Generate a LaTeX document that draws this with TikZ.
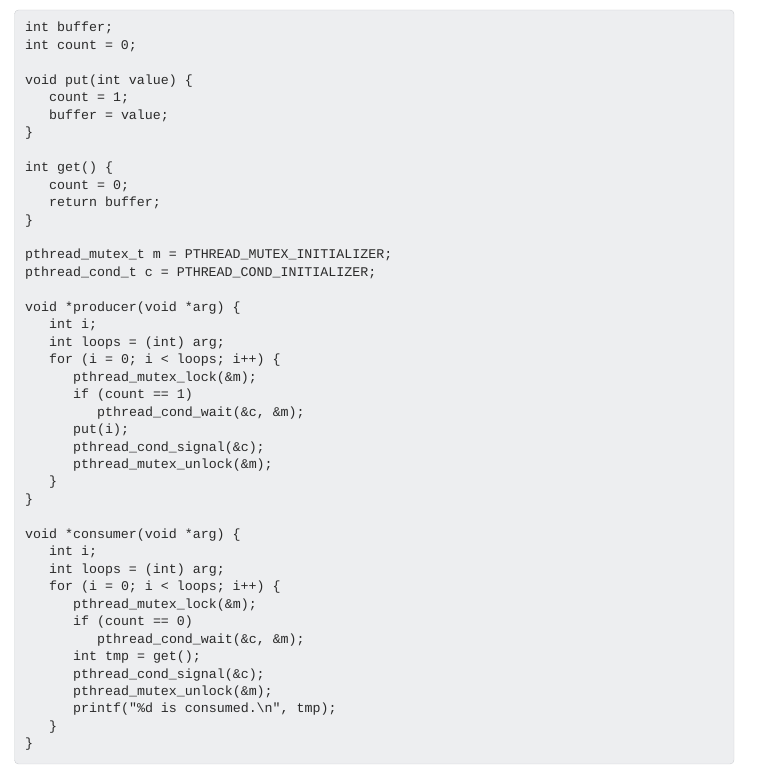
\documentclass[tikz,border=0pt]{standalone}
\usepackage{fontspec}
\setmonofont{Liberation Mono}
\definecolor{bg}{HTML}{EDEEF0}
\definecolor{bd}{HTML}{CCCED1}
\definecolor{tx}{HTML}{2A2A2A}
\newcommand{\I}{\hspace*{24pt}}
\newcommand{\II}{\hspace*{48pt}}
\newcommand{\III}{\hspace*{72pt}}
\newcommand{\Ln}[2]{\node[codeline] (l#1) at (25pt,{747pt-(#1-1)*17.46pt}) {#2};}
\begin{document}
\begin{tikzpicture}[x=1pt,y=1pt,codeline/.style={anchor=base west,inner sep=0pt,text=tx,font=\ttfamily\fontsize{13.3}{16}\selectfont}]
\useasboundingbox (0,0) rectangle (774,779);
\draw[bd,fill=bg,rounded corners=4pt] (14.5,15) rectangle (734,769);
\Ln{1}{int buffer;}
\Ln{2}{int count = 0;}
\Ln{4}{void put(int value) \{}
\Ln{5}{\I count = 1;}
\Ln{6}{\I buffer = value;}
\Ln{7}{\}}
\Ln{9}{int get() \{}
\Ln{10}{\I count = 0;}
\Ln{11}{\I return buffer;}
\Ln{12}{\}}
\Ln{14}{pthread\_mutex\_t m = PTHREAD\_MUTEX\_INITIALIZER;}
\Ln{15}{pthread\_cond\_t c = PTHREAD\_COND\_INITIALIZER;}
\Ln{17}{void *producer(void *arg) \{}
\Ln{18}{\I int i;}
\Ln{19}{\I int loops = (int) arg;}
\Ln{20}{\I for (i = 0; i < loops; i++) \{}
\Ln{21}{\II pthread\_mutex\_lock(\&m);}
\Ln{22}{\II if (count == 1)}
\Ln{23}{\III pthread\_cond\_wait(\&c, \&m);}
\Ln{24}{\II put(i);}
\Ln{25}{\II pthread\_cond\_signal(\&c);}
\Ln{26}{\II pthread\_mutex\_unlock(\&m);}
\Ln{27}{\I \}}
\Ln{28}{\}}
\Ln{30}{void *consumer(void *arg) \{}
\Ln{31}{\I int i;}
\Ln{32}{\I int loops = (int) arg;}
\Ln{33}{\I for (i = 0; i < loops; i++) \{}
\Ln{34}{\II pthread\_mutex\_lock(\&m);}
\Ln{35}{\II if (count == 0)}
\Ln{36}{\III pthread\_cond\_wait(\&c, \&m);}
\Ln{37}{\II int tmp = get();}
\Ln{38}{\II pthread\_cond\_signal(\&c);}
\Ln{39}{\II pthread\_mutex\_unlock(\&m);}
\Ln{40}{\II printf("\%d is consumed.\textbackslash n", tmp);}
\Ln{41}{\I \}}
\Ln{42}{\}}
\end{tikzpicture}
\end{document}
